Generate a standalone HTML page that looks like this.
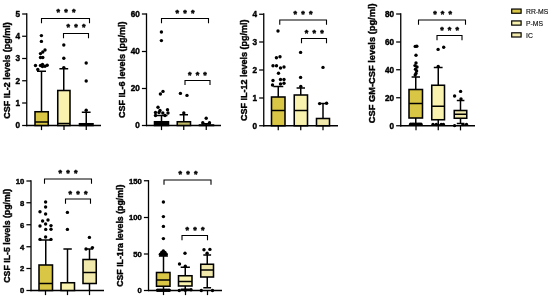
<!DOCTYPE html>
<html><head><meta charset="utf-8"><title>CSF cytokine levels</title>
<style>
html,body{margin:0;padding:0;background:#fff;}
body{width:550px;height:300px;overflow:hidden;}
svg{display:block;filter:blur(0.3px);font-family:"Liberation Sans",Arial,sans-serif;}
</style></head><body>
<svg width="550" height="300" viewBox="0 0 550 300">
<rect width="550" height="300" fill="#fff"/>
<line x1="26.75" y1="13.35" x2="26.75" y2="126.15" stroke="#000" stroke-width="1.3" stroke-linecap="butt"/>
<line x1="26.25" y1="125.50" x2="101.00" y2="125.50" stroke="#000" stroke-width="1.3" stroke-linecap="butt"/>
<line x1="41.50" y1="125.50" x2="41.50" y2="130.10" stroke="#000" stroke-width="1.25" stroke-linecap="butt"/>
<line x1="64.00" y1="125.50" x2="64.00" y2="130.10" stroke="#000" stroke-width="1.25" stroke-linecap="butt"/>
<line x1="86.25" y1="125.50" x2="86.25" y2="130.10" stroke="#000" stroke-width="1.25" stroke-linecap="butt"/>
<line x1="22.15" y1="125.50" x2="26.75" y2="125.50" stroke="#000" stroke-width="1.25" stroke-linecap="butt"/>
<text x="20.15" y="128.45" font-size="8.2" font-weight="bold" text-anchor="end" fill="#000" stroke="#000" stroke-width="0.4">0</text>
<line x1="22.15" y1="103.00" x2="26.75" y2="103.00" stroke="#000" stroke-width="1.25" stroke-linecap="butt"/>
<text x="20.15" y="105.95" font-size="8.2" font-weight="bold" text-anchor="end" fill="#000" stroke="#000" stroke-width="0.4">1</text>
<line x1="22.15" y1="80.75" x2="26.75" y2="80.75" stroke="#000" stroke-width="1.25" stroke-linecap="butt"/>
<text x="20.15" y="83.70" font-size="8.2" font-weight="bold" text-anchor="end" fill="#000" stroke="#000" stroke-width="0.4">2</text>
<line x1="22.15" y1="58.50" x2="26.75" y2="58.50" stroke="#000" stroke-width="1.25" stroke-linecap="butt"/>
<text x="20.15" y="61.45" font-size="8.2" font-weight="bold" text-anchor="end" fill="#000" stroke="#000" stroke-width="0.4">3</text>
<line x1="22.15" y1="36.25" x2="26.75" y2="36.25" stroke="#000" stroke-width="1.25" stroke-linecap="butt"/>
<text x="20.15" y="39.20" font-size="8.2" font-weight="bold" text-anchor="end" fill="#000" stroke="#000" stroke-width="0.4">4</text>
<line x1="22.15" y1="14.00" x2="26.75" y2="14.00" stroke="#000" stroke-width="1.25" stroke-linecap="butt"/>
<text x="20.15" y="16.95" font-size="8.2" font-weight="bold" text-anchor="end" fill="#000" stroke="#000" stroke-width="0.4">5</text>
<text transform="translate(10.20,70.50) rotate(-90)" font-size="9.0" font-weight="bold" text-anchor="middle" fill="#000" stroke="#000" stroke-width="0.4">CSF IL-2 levels (pg/ml)</text>
<line x1="41.50" y1="71.20" x2="41.50" y2="111.70" stroke="#000" stroke-width="1.5" stroke-linecap="butt"/>
<line x1="37.00" y1="71.25" x2="46.00" y2="71.25" stroke="#000" stroke-width="1.5" stroke-linecap="butt"/>
<rect x="35.00" y="111.75" width="13.25" height="13.75" fill="#D9C644" stroke="#000" stroke-width="1.55"/>
<line x1="35.00" y1="122.00" x2="48.25" y2="122.00" stroke="#000" stroke-width="1.5" stroke-linecap="butt"/>
<line x1="63.75" y1="68.70" x2="63.75" y2="90.60" stroke="#000" stroke-width="1.5" stroke-linecap="butt"/>
<line x1="59.40" y1="68.75" x2="68.20" y2="68.75" stroke="#000" stroke-width="1.5" stroke-linecap="butt"/>
<rect x="57.75" y="90.50" width="12.25" height="35.00" fill="#F8F2AE" stroke="#000" stroke-width="1.55"/>
<line x1="57.75" y1="123.50" x2="69.90" y2="123.50" stroke="#000" stroke-width="1.5" stroke-linecap="butt"/>
<line x1="86.25" y1="112.20" x2="86.25" y2="123.80" stroke="#000" stroke-width="1.5" stroke-linecap="butt"/>
<line x1="81.80" y1="112.25" x2="90.60" y2="112.25" stroke="#000" stroke-width="1.5" stroke-linecap="butt"/>
<rect x="79.50" y="123.75" width="13.50" height="1.75" fill="#000" stroke="#000" stroke-width="1.55"/>
<circle cx="41.40" cy="35.60" r="1.7" fill="#000"/>
<circle cx="41.40" cy="41.40" r="1.7" fill="#000"/>
<circle cx="45.00" cy="50.00" r="1.7" fill="#000"/>
<circle cx="42.80" cy="52.00" r="1.7" fill="#000"/>
<circle cx="40.50" cy="53.60" r="1.7" fill="#000"/>
<circle cx="40.50" cy="57.50" r="1.7" fill="#000"/>
<circle cx="42.80" cy="57.50" r="1.7" fill="#000"/>
<circle cx="35.50" cy="65.50" r="1.7" fill="#000"/>
<circle cx="40.50" cy="65.50" r="1.7" fill="#000"/>
<circle cx="42.50" cy="64.50" r="1.7" fill="#000"/>
<circle cx="42.50" cy="66.60" r="1.7" fill="#000"/>
<circle cx="45.00" cy="66.20" r="1.7" fill="#000"/>
<circle cx="47.20" cy="65.30" r="1.7" fill="#000"/>
<circle cx="37.80" cy="69.50" r="1.7" fill="#000"/>
<circle cx="63.80" cy="45.00" r="1.7" fill="#000"/>
<circle cx="63.80" cy="58.30" r="1.7" fill="#000"/>
<circle cx="63.80" cy="67.60" r="1.7" fill="#000"/>
<circle cx="86.20" cy="63.00" r="1.7" fill="#000"/>
<circle cx="86.20" cy="81.00" r="1.7" fill="#000"/>
<circle cx="86.20" cy="110.20" r="1.7" fill="#000"/>
<polyline points="41.50,23.30 41.50,18.50 89.50,18.50 89.50,23.30" fill="none" stroke="#000" stroke-width="1.1"/>
<text x="58.30" y="15.35" font-size="9.0" font-weight="bold" text-anchor="middle" fill="#000" stroke="#000" stroke-width="0.5" stroke-linejoin="round">*</text>
<text x="66.00" y="15.35" font-size="9.0" font-weight="bold" text-anchor="middle" fill="#000" stroke="#000" stroke-width="0.5" stroke-linejoin="round">*</text>
<text x="73.70" y="15.35" font-size="9.0" font-weight="bold" text-anchor="middle" fill="#000" stroke="#000" stroke-width="0.5" stroke-linejoin="round">*</text>
<polyline points="63.50,38.30 63.50,33.50 88.50,33.50 88.50,38.30" fill="none" stroke="#000" stroke-width="1.1"/>
<text x="68.30" y="30.35" font-size="9.0" font-weight="bold" text-anchor="middle" fill="#000" stroke="#000" stroke-width="0.5" stroke-linejoin="round">*</text>
<text x="76.00" y="30.35" font-size="9.0" font-weight="bold" text-anchor="middle" fill="#000" stroke="#000" stroke-width="0.5" stroke-linejoin="round">*</text>
<text x="83.70" y="30.35" font-size="9.0" font-weight="bold" text-anchor="middle" fill="#000" stroke="#000" stroke-width="0.5" stroke-linejoin="round">*</text>
<line x1="146.50" y1="13.35" x2="146.50" y2="126.15" stroke="#000" stroke-width="1.3" stroke-linecap="butt"/>
<line x1="146.00" y1="125.50" x2="221.00" y2="125.50" stroke="#000" stroke-width="1.3" stroke-linecap="butt"/>
<line x1="161.50" y1="125.50" x2="161.50" y2="130.10" stroke="#000" stroke-width="1.25" stroke-linecap="butt"/>
<line x1="183.75" y1="125.50" x2="183.75" y2="130.10" stroke="#000" stroke-width="1.25" stroke-linecap="butt"/>
<line x1="206.25" y1="125.50" x2="206.25" y2="130.10" stroke="#000" stroke-width="1.25" stroke-linecap="butt"/>
<line x1="141.90" y1="14.00" x2="146.50" y2="14.00" stroke="#000" stroke-width="1.25" stroke-linecap="butt"/>
<text x="139.90" y="16.95" font-size="8.2" font-weight="bold" text-anchor="end" fill="#000" stroke="#000" stroke-width="0.4">60</text>
<line x1="141.90" y1="51.50" x2="146.50" y2="51.50" stroke="#000" stroke-width="1.25" stroke-linecap="butt"/>
<text x="139.90" y="54.45" font-size="8.2" font-weight="bold" text-anchor="end" fill="#000" stroke="#000" stroke-width="0.4">40</text>
<line x1="141.90" y1="88.50" x2="146.50" y2="88.50" stroke="#000" stroke-width="1.25" stroke-linecap="butt"/>
<text x="139.90" y="91.45" font-size="8.2" font-weight="bold" text-anchor="end" fill="#000" stroke="#000" stroke-width="0.4">20</text>
<line x1="141.90" y1="125.50" x2="146.50" y2="125.50" stroke="#000" stroke-width="1.25" stroke-linecap="butt"/>
<text x="139.90" y="128.45" font-size="8.2" font-weight="bold" text-anchor="end" fill="#000" stroke="#000" stroke-width="0.4">0</text>
<text transform="translate(125.40,69.70) rotate(-90)" font-size="9.0" font-weight="bold" text-anchor="middle" fill="#000" stroke="#000" stroke-width="0.4">CSF IL-6 levels (pg/ml)</text>
<line x1="161.50" y1="115.60" x2="161.50" y2="121.80" stroke="#000" stroke-width="1.5" stroke-linecap="butt"/>
<line x1="155.50" y1="115.50" x2="167.50" y2="115.50" stroke="#000" stroke-width="1.5" stroke-linecap="butt"/>
<rect x="154.50" y="121.75" width="14.00" height="3.75" fill="#000" stroke="#000" stroke-width="1.55"/>
<line x1="183.75" y1="114.80" x2="183.75" y2="121.70" stroke="#000" stroke-width="1.5" stroke-linecap="butt"/>
<line x1="179.60" y1="114.75" x2="188.00" y2="114.75" stroke="#000" stroke-width="1.5" stroke-linecap="butt"/>
<rect x="177.25" y="121.75" width="13.25" height="3.75" fill="#BDB868" stroke="#000" stroke-width="1.55"/>
<line x1="206.25" y1="123.80" x2="206.25" y2="125.00" stroke="#000" stroke-width="1.5" stroke-linecap="butt"/>
<line x1="201.70" y1="123.75" x2="210.90" y2="123.75" stroke="#000" stroke-width="1.5" stroke-linecap="butt"/>
<rect x="199.50" y="125.00" width="14.00" height="0.50" fill="#F1E9AC" stroke="#000" stroke-width="1.55"/>
<circle cx="161.40" cy="32.00" r="1.7" fill="#000"/>
<circle cx="161.40" cy="40.60" r="1.7" fill="#000"/>
<circle cx="160.40" cy="94.00" r="1.7" fill="#000"/>
<circle cx="163.00" cy="91.40" r="1.7" fill="#000"/>
<circle cx="180.40" cy="93.40" r="1.7" fill="#000"/>
<circle cx="187.00" cy="95.40" r="1.7" fill="#000"/>
<circle cx="158.00" cy="107.20" r="1.7" fill="#000"/>
<circle cx="160.00" cy="110.50" r="1.7" fill="#000"/>
<circle cx="167.50" cy="109.70" r="1.7" fill="#000"/>
<circle cx="155.50" cy="112.50" r="1.7" fill="#000"/>
<circle cx="159.00" cy="112.50" r="1.7" fill="#000"/>
<circle cx="162.80" cy="113.00" r="1.7" fill="#000"/>
<circle cx="168.00" cy="113.00" r="1.7" fill="#000"/>
<circle cx="155.50" cy="115.50" r="1.7" fill="#000"/>
<circle cx="165.00" cy="115.50" r="1.7" fill="#000"/>
<circle cx="183.80" cy="113.00" r="1.7" fill="#000"/>
<circle cx="206.20" cy="118.20" r="1.7" fill="#000"/>
<circle cx="202.80" cy="122.80" r="1.7" fill="#000"/>
<circle cx="209.50" cy="122.80" r="1.7" fill="#000"/>
<polyline points="161.50,23.30 161.50,18.50 208.50,18.50 208.50,23.30" fill="none" stroke="#000" stroke-width="1.1"/>
<text x="177.30" y="15.95" font-size="9.0" font-weight="bold" text-anchor="middle" fill="#000" stroke="#000" stroke-width="0.5" stroke-linejoin="round">*</text>
<text x="185.00" y="15.95" font-size="9.0" font-weight="bold" text-anchor="middle" fill="#000" stroke="#000" stroke-width="0.5" stroke-linejoin="round">*</text>
<text x="192.70" y="15.95" font-size="9.0" font-weight="bold" text-anchor="middle" fill="#000" stroke="#000" stroke-width="0.5" stroke-linejoin="round">*</text>
<polyline points="185.00,84.90 185.00,80.50 210.00,80.50 210.00,84.90" fill="none" stroke="#000" stroke-width="1.1"/>
<text x="189.70" y="77.55" font-size="9.0" font-weight="bold" text-anchor="middle" fill="#000" stroke="#000" stroke-width="0.5" stroke-linejoin="round">*</text>
<text x="197.40" y="77.55" font-size="9.0" font-weight="bold" text-anchor="middle" fill="#000" stroke="#000" stroke-width="0.5" stroke-linejoin="round">*</text>
<text x="205.10" y="77.55" font-size="9.0" font-weight="bold" text-anchor="middle" fill="#000" stroke="#000" stroke-width="0.5" stroke-linejoin="round">*</text>
<line x1="263.75" y1="13.35" x2="263.75" y2="126.40" stroke="#000" stroke-width="1.3" stroke-linecap="butt"/>
<line x1="263.25" y1="125.75" x2="338.00" y2="125.75" stroke="#000" stroke-width="1.3" stroke-linecap="butt"/>
<line x1="278.25" y1="125.75" x2="278.25" y2="130.35" stroke="#000" stroke-width="1.25" stroke-linecap="butt"/>
<line x1="300.75" y1="125.75" x2="300.75" y2="130.35" stroke="#000" stroke-width="1.25" stroke-linecap="butt"/>
<line x1="323.00" y1="125.75" x2="323.00" y2="130.35" stroke="#000" stroke-width="1.25" stroke-linecap="butt"/>
<line x1="259.15" y1="125.75" x2="263.75" y2="125.75" stroke="#000" stroke-width="1.25" stroke-linecap="butt"/>
<text x="257.15" y="128.70" font-size="8.2" font-weight="bold" text-anchor="end" fill="#000" stroke="#000" stroke-width="0.4">0</text>
<line x1="259.15" y1="98.00" x2="263.75" y2="98.00" stroke="#000" stroke-width="1.25" stroke-linecap="butt"/>
<text x="257.15" y="100.95" font-size="8.2" font-weight="bold" text-anchor="end" fill="#000" stroke="#000" stroke-width="0.4">1</text>
<line x1="259.15" y1="70.00" x2="263.75" y2="70.00" stroke="#000" stroke-width="1.25" stroke-linecap="butt"/>
<text x="257.15" y="72.95" font-size="8.2" font-weight="bold" text-anchor="end" fill="#000" stroke="#000" stroke-width="0.4">2</text>
<line x1="259.15" y1="42.00" x2="263.75" y2="42.00" stroke="#000" stroke-width="1.25" stroke-linecap="butt"/>
<text x="257.15" y="44.95" font-size="8.2" font-weight="bold" text-anchor="end" fill="#000" stroke="#000" stroke-width="0.4">3</text>
<line x1="259.15" y1="14.25" x2="263.75" y2="14.25" stroke="#000" stroke-width="1.25" stroke-linecap="butt"/>
<text x="257.15" y="17.20" font-size="8.2" font-weight="bold" text-anchor="end" fill="#000" stroke="#000" stroke-width="0.4">4</text>
<text transform="translate(246.50,70.20) rotate(-90)" font-size="9.0" font-weight="bold" text-anchor="middle" fill="#000" stroke="#000" stroke-width="0.4">CSF IL-12 levels (pg/ml)</text>
<line x1="278.25" y1="86.50" x2="278.25" y2="97.00" stroke="#000" stroke-width="1.5" stroke-linecap="butt"/>
<line x1="273.30" y1="86.50" x2="283.30" y2="86.50" stroke="#000" stroke-width="1.5" stroke-linecap="butt"/>
<rect x="271.50" y="97.00" width="13.50" height="28.75" fill="#D9C644" stroke="#000" stroke-width="1.55"/>
<line x1="271.50" y1="110.50" x2="285.00" y2="110.50" stroke="#000" stroke-width="1.5" stroke-linecap="butt"/>
<line x1="300.75" y1="87.90" x2="300.75" y2="95.00" stroke="#000" stroke-width="1.5" stroke-linecap="butt"/>
<line x1="296.60" y1="88.00" x2="305.00" y2="88.00" stroke="#000" stroke-width="1.5" stroke-linecap="butt"/>
<rect x="294.25" y="95.00" width="13.25" height="30.75" fill="#F8F2AE" stroke="#000" stroke-width="1.55"/>
<line x1="294.20" y1="110.50" x2="307.40" y2="110.50" stroke="#000" stroke-width="1.5" stroke-linecap="butt"/>
<line x1="323.00" y1="103.60" x2="323.00" y2="118.40" stroke="#000" stroke-width="1.5" stroke-linecap="butt"/>
<line x1="319.00" y1="103.50" x2="327.00" y2="103.50" stroke="#000" stroke-width="1.5" stroke-linecap="butt"/>
<rect x="316.50" y="118.50" width="13.00" height="7.25" fill="#F1E9AC" stroke="#000" stroke-width="1.55"/>
<circle cx="278.00" cy="31.00" r="1.7" fill="#000"/>
<circle cx="276.40" cy="57.80" r="1.7" fill="#000"/>
<circle cx="280.00" cy="56.80" r="1.7" fill="#000"/>
<circle cx="273.00" cy="65.80" r="1.7" fill="#000"/>
<circle cx="276.50" cy="65.80" r="1.7" fill="#000"/>
<circle cx="280.50" cy="68.00" r="1.7" fill="#000"/>
<circle cx="284.00" cy="67.00" r="1.7" fill="#000"/>
<circle cx="278.50" cy="73.30" r="1.7" fill="#000"/>
<circle cx="273.00" cy="80.50" r="1.7" fill="#000"/>
<circle cx="280.50" cy="79.50" r="1.7" fill="#000"/>
<circle cx="284.00" cy="79.50" r="1.7" fill="#000"/>
<circle cx="272.50" cy="85.00" r="1.7" fill="#000"/>
<circle cx="280.50" cy="84.00" r="1.7" fill="#000"/>
<circle cx="284.00" cy="83.20" r="1.7" fill="#000"/>
<circle cx="300.60" cy="52.40" r="1.7" fill="#000"/>
<circle cx="300.60" cy="77.40" r="1.7" fill="#000"/>
<circle cx="300.80" cy="86.40" r="1.7" fill="#000"/>
<circle cx="323.00" cy="67.40" r="1.7" fill="#000"/>
<circle cx="319.60" cy="103.60" r="1.7" fill="#000"/>
<circle cx="326.60" cy="103.20" r="1.7" fill="#000"/>
<polyline points="279.75,24.80 279.75,20.00 326.50,20.00 326.50,24.80" fill="none" stroke="#000" stroke-width="1.1"/>
<text x="295.30" y="16.95" font-size="9.0" font-weight="bold" text-anchor="middle" fill="#000" stroke="#000" stroke-width="0.5" stroke-linejoin="round">*</text>
<text x="303.00" y="16.95" font-size="9.0" font-weight="bold" text-anchor="middle" fill="#000" stroke="#000" stroke-width="0.5" stroke-linejoin="round">*</text>
<text x="310.70" y="16.95" font-size="9.0" font-weight="bold" text-anchor="middle" fill="#000" stroke="#000" stroke-width="0.5" stroke-linejoin="round">*</text>
<polyline points="301.50,43.30 301.50,38.50 326.50,38.50 326.50,43.30" fill="none" stroke="#000" stroke-width="1.1"/>
<text x="306.50" y="35.95" font-size="9.0" font-weight="bold" text-anchor="middle" fill="#000" stroke="#000" stroke-width="0.5" stroke-linejoin="round">*</text>
<text x="314.20" y="35.95" font-size="9.0" font-weight="bold" text-anchor="middle" fill="#000" stroke="#000" stroke-width="0.5" stroke-linejoin="round">*</text>
<text x="321.90" y="35.95" font-size="9.0" font-weight="bold" text-anchor="middle" fill="#000" stroke="#000" stroke-width="0.5" stroke-linejoin="round">*</text>
<line x1="400.75" y1="13.35" x2="400.75" y2="126.40" stroke="#000" stroke-width="1.3" stroke-linecap="butt"/>
<line x1="400.25" y1="125.75" x2="475.00" y2="125.75" stroke="#000" stroke-width="1.3" stroke-linecap="butt"/>
<line x1="416.00" y1="125.75" x2="416.00" y2="130.35" stroke="#000" stroke-width="1.25" stroke-linecap="butt"/>
<line x1="438.25" y1="125.75" x2="438.25" y2="130.35" stroke="#000" stroke-width="1.25" stroke-linecap="butt"/>
<line x1="460.50" y1="125.75" x2="460.50" y2="130.35" stroke="#000" stroke-width="1.25" stroke-linecap="butt"/>
<line x1="396.15" y1="125.75" x2="400.75" y2="125.75" stroke="#000" stroke-width="1.25" stroke-linecap="butt"/>
<text x="394.15" y="128.70" font-size="8.2" font-weight="bold" text-anchor="end" fill="#000" stroke="#000" stroke-width="0.4">0</text>
<line x1="396.15" y1="97.75" x2="400.75" y2="97.75" stroke="#000" stroke-width="1.25" stroke-linecap="butt"/>
<text x="394.15" y="100.70" font-size="8.2" font-weight="bold" text-anchor="end" fill="#000" stroke="#000" stroke-width="0.4">20</text>
<line x1="396.15" y1="69.75" x2="400.75" y2="69.75" stroke="#000" stroke-width="1.25" stroke-linecap="butt"/>
<text x="394.15" y="72.70" font-size="8.2" font-weight="bold" text-anchor="end" fill="#000" stroke="#000" stroke-width="0.4">40</text>
<line x1="396.15" y1="42.00" x2="400.75" y2="42.00" stroke="#000" stroke-width="1.25" stroke-linecap="butt"/>
<text x="394.15" y="44.95" font-size="8.2" font-weight="bold" text-anchor="end" fill="#000" stroke="#000" stroke-width="0.4">60</text>
<line x1="396.15" y1="14.00" x2="400.75" y2="14.00" stroke="#000" stroke-width="1.25" stroke-linecap="butt"/>
<text x="394.15" y="16.95" font-size="8.2" font-weight="bold" text-anchor="end" fill="#000" stroke="#000" stroke-width="0.4">80</text>
<text transform="translate(374.60,63.30) rotate(-90)" font-size="9.3" font-weight="bold" text-anchor="middle" fill="#000" stroke="#000" stroke-width="0.4">CSF GM-CSF levels (pg/ml)</text>
<line x1="415.75" y1="77.00" x2="415.75" y2="89.40" stroke="#000" stroke-width="1.5" stroke-linecap="butt"/>
<line x1="411.60" y1="77.00" x2="420.00" y2="77.00" stroke="#000" stroke-width="1.5" stroke-linecap="butt"/>
<line x1="415.75" y1="118.00" x2="415.75" y2="125.00" stroke="#000" stroke-width="1.5" stroke-linecap="butt"/>
<line x1="411.60" y1="125.00" x2="420.00" y2="125.00" stroke="#000" stroke-width="1.5" stroke-linecap="butt"/>
<rect x="409.00" y="89.50" width="13.50" height="28.50" fill="#D9C644" stroke="#000" stroke-width="1.55"/>
<line x1="409.00" y1="103.50" x2="422.40" y2="103.50" stroke="#000" stroke-width="1.5" stroke-linecap="butt"/>
<line x1="438.25" y1="67.50" x2="438.25" y2="85.30" stroke="#000" stroke-width="1.5" stroke-linecap="butt"/>
<line x1="433.80" y1="67.50" x2="442.60" y2="67.50" stroke="#000" stroke-width="1.5" stroke-linecap="butt"/>
<line x1="438.25" y1="119.80" x2="438.25" y2="125.00" stroke="#000" stroke-width="1.5" stroke-linecap="butt"/>
<line x1="433.80" y1="125.00" x2="442.60" y2="125.00" stroke="#000" stroke-width="1.5" stroke-linecap="butt"/>
<rect x="431.75" y="85.25" width="12.75" height="34.50" fill="#F8F2AE" stroke="#000" stroke-width="1.55"/>
<line x1="431.80" y1="106.25" x2="444.40" y2="106.25" stroke="#000" stroke-width="1.5" stroke-linecap="butt"/>
<line x1="460.50" y1="100.50" x2="460.50" y2="110.60" stroke="#000" stroke-width="1.5" stroke-linecap="butt"/>
<line x1="456.80" y1="100.50" x2="464.40" y2="100.50" stroke="#000" stroke-width="1.5" stroke-linecap="butt"/>
<line x1="460.50" y1="118.20" x2="460.50" y2="123.60" stroke="#000" stroke-width="1.5" stroke-linecap="butt"/>
<line x1="456.80" y1="123.50" x2="464.40" y2="123.50" stroke="#000" stroke-width="1.5" stroke-linecap="butt"/>
<rect x="454.25" y="110.50" width="12.50" height="7.75" fill="#F1E9AC" stroke="#000" stroke-width="1.55"/>
<line x1="454.20" y1="114.25" x2="466.80" y2="114.25" stroke="#000" stroke-width="1.5" stroke-linecap="butt"/>
<circle cx="415.20" cy="46.40" r="1.7" fill="#000"/>
<circle cx="416.80" cy="46.20" r="1.7" fill="#000"/>
<circle cx="416.00" cy="55.20" r="1.7" fill="#000"/>
<circle cx="416.00" cy="63.00" r="1.7" fill="#000"/>
<circle cx="415.00" cy="65.60" r="1.7" fill="#000"/>
<circle cx="417.00" cy="67.00" r="1.7" fill="#000"/>
<circle cx="415.50" cy="69.20" r="1.7" fill="#000"/>
<circle cx="416.60" cy="71.00" r="1.7" fill="#000"/>
<circle cx="416.00" cy="73.40" r="1.7" fill="#000"/>
<circle cx="415.20" cy="75.00" r="1.7" fill="#000"/>
<circle cx="410.60" cy="124.30" r="1.7" fill="#000"/>
<circle cx="412.10" cy="124.30" r="1.7" fill="#000"/>
<circle cx="413.60" cy="124.30" r="1.7" fill="#000"/>
<circle cx="415.10" cy="124.30" r="1.7" fill="#000"/>
<circle cx="416.60" cy="124.30" r="1.7" fill="#000"/>
<circle cx="418.10" cy="124.30" r="1.7" fill="#000"/>
<circle cx="419.60" cy="124.30" r="1.7" fill="#000"/>
<circle cx="421.00" cy="124.30" r="1.7" fill="#000"/>
<circle cx="438.10" cy="49.40" r="1.7" fill="#000"/>
<circle cx="443.70" cy="47.30" r="1.7" fill="#000"/>
<circle cx="438.20" cy="66.40" r="1.7" fill="#000"/>
<circle cx="433.00" cy="124.40" r="1.7" fill="#000"/>
<circle cx="436.30" cy="124.50" r="1.7" fill="#000"/>
<circle cx="441.20" cy="124.40" r="1.7" fill="#000"/>
<circle cx="443.40" cy="124.40" r="1.7" fill="#000"/>
<circle cx="454.60" cy="96.00" r="1.7" fill="#000"/>
<circle cx="460.60" cy="91.40" r="1.7" fill="#000"/>
<circle cx="461.00" cy="99.00" r="1.7" fill="#000"/>
<circle cx="454.60" cy="125.60" r="1.7" fill="#000"/>
<circle cx="463.00" cy="124.60" r="1.7" fill="#000"/>
<circle cx="466.50" cy="124.40" r="1.7" fill="#000"/>
<polyline points="418.50,24.80 418.50,20.00 465.50,20.00 465.50,24.80" fill="none" stroke="#000" stroke-width="1.1"/>
<text x="434.90" y="16.95" font-size="9.0" font-weight="bold" text-anchor="middle" fill="#000" stroke="#000" stroke-width="0.5" stroke-linejoin="round">*</text>
<text x="442.60" y="16.95" font-size="9.0" font-weight="bold" text-anchor="middle" fill="#000" stroke="#000" stroke-width="0.5" stroke-linejoin="round">*</text>
<text x="450.30" y="16.95" font-size="9.0" font-weight="bold" text-anchor="middle" fill="#000" stroke="#000" stroke-width="0.5" stroke-linejoin="round">*</text>
<polyline points="437.00,40.30 437.00,35.50 462.00,35.50 462.00,40.30" fill="none" stroke="#000" stroke-width="1.1"/>
<text x="441.90" y="32.95" font-size="9.0" font-weight="bold" text-anchor="middle" fill="#000" stroke="#000" stroke-width="0.5" stroke-linejoin="round">*</text>
<text x="449.60" y="32.95" font-size="9.0" font-weight="bold" text-anchor="middle" fill="#000" stroke="#000" stroke-width="0.5" stroke-linejoin="round">*</text>
<text x="457.30" y="32.95" font-size="9.0" font-weight="bold" text-anchor="middle" fill="#000" stroke="#000" stroke-width="0.5" stroke-linejoin="round">*</text>
<line x1="31.00" y1="180.35" x2="31.00" y2="291.15" stroke="#000" stroke-width="1.3" stroke-linecap="butt"/>
<line x1="30.50" y1="290.50" x2="104.00" y2="290.50" stroke="#000" stroke-width="1.3" stroke-linecap="butt"/>
<line x1="45.50" y1="290.50" x2="45.50" y2="295.10" stroke="#000" stroke-width="1.25" stroke-linecap="butt"/>
<line x1="67.50" y1="290.50" x2="67.50" y2="295.10" stroke="#000" stroke-width="1.25" stroke-linecap="butt"/>
<line x1="89.50" y1="290.50" x2="89.50" y2="295.10" stroke="#000" stroke-width="1.25" stroke-linecap="butt"/>
<line x1="26.40" y1="290.50" x2="31.00" y2="290.50" stroke="#000" stroke-width="1.25" stroke-linecap="butt"/>
<text x="24.40" y="293.27" font-size="7.7" font-weight="bold" text-anchor="end" fill="#000" stroke="#000" stroke-width="0.4">0</text>
<line x1="26.40" y1="268.50" x2="31.00" y2="268.50" stroke="#000" stroke-width="1.25" stroke-linecap="butt"/>
<text x="24.40" y="271.27" font-size="7.7" font-weight="bold" text-anchor="end" fill="#000" stroke="#000" stroke-width="0.4">2</text>
<line x1="26.40" y1="246.75" x2="31.00" y2="246.75" stroke="#000" stroke-width="1.25" stroke-linecap="butt"/>
<text x="24.40" y="249.52" font-size="7.7" font-weight="bold" text-anchor="end" fill="#000" stroke="#000" stroke-width="0.4">4</text>
<line x1="26.40" y1="224.75" x2="31.00" y2="224.75" stroke="#000" stroke-width="1.25" stroke-linecap="butt"/>
<text x="24.40" y="227.52" font-size="7.7" font-weight="bold" text-anchor="end" fill="#000" stroke="#000" stroke-width="0.4">6</text>
<line x1="26.40" y1="202.75" x2="31.00" y2="202.75" stroke="#000" stroke-width="1.25" stroke-linecap="butt"/>
<text x="24.40" y="205.52" font-size="7.7" font-weight="bold" text-anchor="end" fill="#000" stroke="#000" stroke-width="0.4">8</text>
<line x1="26.40" y1="181.00" x2="31.00" y2="181.00" stroke="#000" stroke-width="1.25" stroke-linecap="butt"/>
<text x="24.40" y="183.77" font-size="7.7" font-weight="bold" text-anchor="end" fill="#000" stroke="#000" stroke-width="0.4">10</text>
<text transform="translate(10.00,235.80) rotate(-90)" font-size="8.75" font-weight="bold" text-anchor="middle" fill="#000" stroke="#000" stroke-width="0.4">CSF IL-5 levels (pg/ml)</text>
<line x1="45.75" y1="240.00" x2="45.75" y2="265.00" stroke="#000" stroke-width="1.5" stroke-linecap="butt"/>
<line x1="40.20" y1="240.00" x2="51.40" y2="240.00" stroke="#000" stroke-width="1.5" stroke-linecap="butt"/>
<rect x="39.00" y="265.00" width="13.50" height="25.50" fill="#D9C644" stroke="#000" stroke-width="1.55"/>
<line x1="39.00" y1="283.50" x2="52.40" y2="283.50" stroke="#000" stroke-width="1.5" stroke-linecap="butt"/>
<line x1="67.50" y1="249.00" x2="67.50" y2="282.80" stroke="#000" stroke-width="1.5" stroke-linecap="butt"/>
<line x1="63.40" y1="249.00" x2="71.80" y2="249.00" stroke="#000" stroke-width="1.5" stroke-linecap="butt"/>
<rect x="61.00" y="282.75" width="13.50" height="7.75" fill="#F8F2AE" stroke="#000" stroke-width="1.55"/>
<line x1="89.50" y1="249.00" x2="89.50" y2="259.60" stroke="#000" stroke-width="1.5" stroke-linecap="butt"/>
<line x1="86.00" y1="249.00" x2="93.20" y2="249.00" stroke="#000" stroke-width="1.5" stroke-linecap="butt"/>
<line x1="89.50" y1="283.40" x2="89.50" y2="290.50" stroke="#000" stroke-width="1.5" stroke-linecap="butt"/>
<rect x="83.00" y="259.50" width="13.25" height="24.00" fill="#F1E9AC" stroke="#000" stroke-width="1.55"/>
<line x1="83.00" y1="272.50" x2="96.20" y2="272.50" stroke="#000" stroke-width="1.5" stroke-linecap="butt"/>
<circle cx="45.60" cy="202.00" r="1.7" fill="#000"/>
<circle cx="45.60" cy="207.00" r="1.7" fill="#000"/>
<circle cx="40.00" cy="211.80" r="1.7" fill="#000"/>
<circle cx="45.60" cy="214.00" r="1.7" fill="#000"/>
<circle cx="48.00" cy="220.00" r="1.7" fill="#000"/>
<circle cx="42.60" cy="221.00" r="1.7" fill="#000"/>
<circle cx="40.00" cy="226.00" r="1.7" fill="#000"/>
<circle cx="45.60" cy="224.00" r="1.7" fill="#000"/>
<circle cx="51.00" cy="225.60" r="1.7" fill="#000"/>
<circle cx="45.70" cy="229.40" r="1.7" fill="#000"/>
<circle cx="51.00" cy="229.30" r="1.7" fill="#000"/>
<circle cx="45.60" cy="237.00" r="1.7" fill="#000"/>
<circle cx="40.00" cy="239.40" r="1.7" fill="#000"/>
<circle cx="51.00" cy="239.40" r="1.7" fill="#000"/>
<circle cx="67.40" cy="212.40" r="1.7" fill="#000"/>
<circle cx="67.40" cy="229.40" r="1.7" fill="#000"/>
<circle cx="89.40" cy="237.40" r="1.7" fill="#000"/>
<circle cx="86.00" cy="249.00" r="1.7" fill="#000"/>
<circle cx="92.40" cy="247.60" r="1.7" fill="#000"/>
<polyline points="44.50,183.80 44.50,179.00 91.50,179.00 91.50,183.80" fill="none" stroke="#000" stroke-width="1.1"/>
<text x="60.30" y="176.15" font-size="9.0" font-weight="bold" text-anchor="middle" fill="#000" stroke="#000" stroke-width="0.5" stroke-linejoin="round">*</text>
<text x="68.00" y="176.15" font-size="9.0" font-weight="bold" text-anchor="middle" fill="#000" stroke="#000" stroke-width="0.5" stroke-linejoin="round">*</text>
<text x="75.70" y="176.15" font-size="9.0" font-weight="bold" text-anchor="middle" fill="#000" stroke="#000" stroke-width="0.5" stroke-linejoin="round">*</text>
<polyline points="65.50,203.80 65.50,199.00 90.50,199.00 90.50,203.80" fill="none" stroke="#000" stroke-width="1.1"/>
<text x="70.30" y="196.55" font-size="9.0" font-weight="bold" text-anchor="middle" fill="#000" stroke="#000" stroke-width="0.5" stroke-linejoin="round">*</text>
<text x="78.00" y="196.55" font-size="9.0" font-weight="bold" text-anchor="middle" fill="#000" stroke="#000" stroke-width="0.5" stroke-linejoin="round">*</text>
<text x="85.70" y="196.55" font-size="9.0" font-weight="bold" text-anchor="middle" fill="#000" stroke="#000" stroke-width="0.5" stroke-linejoin="round">*</text>
<line x1="148.50" y1="180.10" x2="148.50" y2="291.15" stroke="#000" stroke-width="1.3" stroke-linecap="butt"/>
<line x1="148.00" y1="290.50" x2="222.00" y2="290.50" stroke="#000" stroke-width="1.3" stroke-linecap="butt"/>
<line x1="163.50" y1="290.50" x2="163.50" y2="295.10" stroke="#000" stroke-width="1.25" stroke-linecap="butt"/>
<line x1="185.50" y1="290.50" x2="185.50" y2="295.10" stroke="#000" stroke-width="1.25" stroke-linecap="butt"/>
<line x1="207.50" y1="290.50" x2="207.50" y2="295.10" stroke="#000" stroke-width="1.25" stroke-linecap="butt"/>
<line x1="143.90" y1="290.50" x2="148.50" y2="290.50" stroke="#000" stroke-width="1.25" stroke-linecap="butt"/>
<text x="141.90" y="293.27" font-size="7.7" font-weight="bold" text-anchor="end" fill="#000" stroke="#000" stroke-width="0.4">0</text>
<line x1="143.90" y1="254.00" x2="148.50" y2="254.00" stroke="#000" stroke-width="1.25" stroke-linecap="butt"/>
<text x="141.90" y="256.77" font-size="7.7" font-weight="bold" text-anchor="end" fill="#000" stroke="#000" stroke-width="0.4">50</text>
<line x1="143.90" y1="217.50" x2="148.50" y2="217.50" stroke="#000" stroke-width="1.25" stroke-linecap="butt"/>
<text x="141.90" y="220.27" font-size="7.7" font-weight="bold" text-anchor="end" fill="#000" stroke="#000" stroke-width="0.4">100</text>
<line x1="143.90" y1="180.75" x2="148.50" y2="180.75" stroke="#000" stroke-width="1.25" stroke-linecap="butt"/>
<text x="141.90" y="183.52" font-size="7.7" font-weight="bold" text-anchor="end" fill="#000" stroke="#000" stroke-width="0.4">150</text>
<text transform="translate(123.00,235.75) rotate(-90)" font-size="8.75" font-weight="bold" text-anchor="middle" fill="#000" stroke="#000" stroke-width="0.4">CSF IL-1ra levels (pg/ml)</text>
<line x1="163.50" y1="256.00" x2="163.50" y2="272.50" stroke="#000" stroke-width="1.5" stroke-linecap="butt"/>
<line x1="158.90" y1="256.00" x2="167.90" y2="256.00" stroke="#000" stroke-width="1.5" stroke-linecap="butt"/>
<line x1="163.50" y1="286.30" x2="163.50" y2="290.00" stroke="#000" stroke-width="1.5" stroke-linecap="butt"/>
<rect x="156.50" y="272.50" width="13.50" height="13.75" fill="#D9C644" stroke="#000" stroke-width="1.55"/>
<line x1="156.60" y1="280.00" x2="170.00" y2="280.00" stroke="#000" stroke-width="1.5" stroke-linecap="butt"/>
<line x1="185.25" y1="267.30" x2="185.25" y2="275.70" stroke="#000" stroke-width="1.5" stroke-linecap="butt"/>
<line x1="180.70" y1="267.25" x2="189.90" y2="267.25" stroke="#000" stroke-width="1.5" stroke-linecap="butt"/>
<line x1="185.25" y1="286.00" x2="185.25" y2="289.20" stroke="#000" stroke-width="1.5" stroke-linecap="butt"/>
<line x1="180.70" y1="289.25" x2="189.90" y2="289.25" stroke="#000" stroke-width="1.5" stroke-linecap="butt"/>
<rect x="178.50" y="275.75" width="13.50" height="10.25" fill="#F8F2AE" stroke="#000" stroke-width="1.55"/>
<line x1="178.60" y1="281.50" x2="192.00" y2="281.50" stroke="#000" stroke-width="1.5" stroke-linecap="butt"/>
<line x1="207.25" y1="255.00" x2="207.25" y2="264.20" stroke="#000" stroke-width="1.5" stroke-linecap="butt"/>
<line x1="203.30" y1="255.00" x2="211.10" y2="255.00" stroke="#000" stroke-width="1.5" stroke-linecap="butt"/>
<line x1="207.25" y1="277.00" x2="207.25" y2="287.80" stroke="#000" stroke-width="1.5" stroke-linecap="butt"/>
<line x1="203.30" y1="287.75" x2="211.10" y2="287.75" stroke="#000" stroke-width="1.5" stroke-linecap="butt"/>
<rect x="200.75" y="264.25" width="12.75" height="12.75" fill="#F1E9AC" stroke="#000" stroke-width="1.55"/>
<line x1="200.70" y1="270.00" x2="213.40" y2="270.00" stroke="#000" stroke-width="1.5" stroke-linecap="butt"/>
<circle cx="163.40" cy="202.00" r="1.7" fill="#000"/>
<circle cx="163.40" cy="216.60" r="1.7" fill="#000"/>
<circle cx="163.40" cy="226.40" r="1.7" fill="#000"/>
<circle cx="163.40" cy="238.60" r="1.7" fill="#000"/>
<circle cx="163.30" cy="250.90" r="1.7" fill="#000"/>
<circle cx="161.70" cy="252.40" r="1.7" fill="#000"/>
<circle cx="164.90" cy="252.40" r="1.7" fill="#000"/>
<circle cx="160.40" cy="254.30" r="1.7" fill="#000"/>
<circle cx="163.30" cy="254.00" r="1.7" fill="#000"/>
<circle cx="166.20" cy="254.30" r="1.7" fill="#000"/>
<circle cx="161.80" cy="254.60" r="1.7" fill="#000"/>
<circle cx="164.80" cy="254.60" r="1.7" fill="#000"/>
<circle cx="157.50" cy="290.30" r="1.7" fill="#000"/>
<circle cx="159.00" cy="290.30" r="1.7" fill="#000"/>
<circle cx="160.50" cy="290.30" r="1.7" fill="#000"/>
<circle cx="162.00" cy="290.30" r="1.7" fill="#000"/>
<circle cx="163.50" cy="290.30" r="1.7" fill="#000"/>
<circle cx="165.00" cy="290.30" r="1.7" fill="#000"/>
<circle cx="166.50" cy="290.30" r="1.7" fill="#000"/>
<circle cx="168.00" cy="290.30" r="1.7" fill="#000"/>
<circle cx="169.30" cy="290.30" r="1.7" fill="#000"/>
<circle cx="185.00" cy="253.30" r="1.7" fill="#000"/>
<circle cx="179.50" cy="264.00" r="1.7" fill="#000"/>
<circle cx="185.30" cy="266.20" r="1.7" fill="#000"/>
<circle cx="179.30" cy="290.50" r="1.7" fill="#000"/>
<circle cx="185.30" cy="290.30" r="1.7" fill="#000"/>
<circle cx="191.00" cy="289.80" r="1.7" fill="#000"/>
<circle cx="204.00" cy="249.70" r="1.7" fill="#000"/>
<circle cx="209.90" cy="249.40" r="1.7" fill="#000"/>
<circle cx="207.10" cy="253.20" r="1.7" fill="#000"/>
<circle cx="201.30" cy="290.50" r="1.7" fill="#000"/>
<circle cx="212.50" cy="290.50" r="1.7" fill="#000"/>
<polyline points="164.00,184.80 164.00,180.00 211.00,180.00 211.00,184.80" fill="none" stroke="#000" stroke-width="1.1"/>
<text x="180.30" y="176.95" font-size="9.0" font-weight="bold" text-anchor="middle" fill="#000" stroke="#000" stroke-width="0.5" stroke-linejoin="round">*</text>
<text x="188.00" y="176.95" font-size="9.0" font-weight="bold" text-anchor="middle" fill="#000" stroke="#000" stroke-width="0.5" stroke-linejoin="round">*</text>
<text x="195.70" y="176.95" font-size="9.0" font-weight="bold" text-anchor="middle" fill="#000" stroke="#000" stroke-width="0.5" stroke-linejoin="round">*</text>
<polyline points="182.00,240.30 182.00,235.50 207.50,235.50 207.50,240.30" fill="none" stroke="#000" stroke-width="1.1"/>
<text x="187.30" y="232.95" font-size="9.0" font-weight="bold" text-anchor="middle" fill="#000" stroke="#000" stroke-width="0.5" stroke-linejoin="round">*</text>
<text x="195.00" y="232.95" font-size="9.0" font-weight="bold" text-anchor="middle" fill="#000" stroke="#000" stroke-width="0.5" stroke-linejoin="round">*</text>
<text x="202.70" y="232.95" font-size="9.0" font-weight="bold" text-anchor="middle" fill="#000" stroke="#000" stroke-width="0.5" stroke-linejoin="round">*</text>
<rect x="511.7" y="9.05" width="9.4" height="4.2" fill="#D9C644" stroke="#000" stroke-width="1.2"/>
<text x="526.00" y="13.75" font-size="6.8" font-weight="normal" text-anchor="start" fill="#111" stroke="#111" stroke-width="0.15">RR-MS</text>
<rect x="511.7" y="20.93" width="9.4" height="4.2" fill="#F8F2AE" stroke="#000" stroke-width="1.2"/>
<text x="526.00" y="25.63" font-size="6.8" font-weight="normal" text-anchor="start" fill="#111" stroke="#111" stroke-width="0.15">P-MS</text>
<rect x="511.7" y="32.81" width="9.4" height="4.2" fill="#F1E9AC" stroke="#000" stroke-width="1.2"/>
<text x="526.00" y="37.51" font-size="6.8" font-weight="normal" text-anchor="start" fill="#111" stroke="#111" stroke-width="0.15">IC</text>
</svg>
</body></html>
